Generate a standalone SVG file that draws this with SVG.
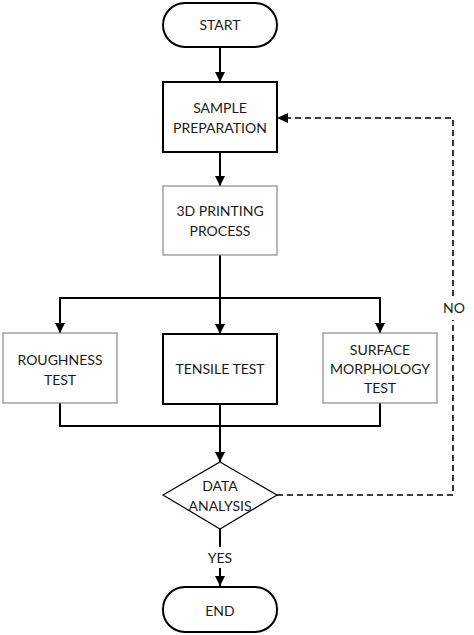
<svg xmlns="http://www.w3.org/2000/svg" width="474" height="635" viewBox="0 0 474 635">
<style>
text{font-family:Lato,"Open Sans","Liberation Sans",sans-serif;font-size:14px;fill:#1a1a1a;text-anchor:middle}
.blk{fill:#fff;stroke:#000;stroke-width:2}
.gry{fill:#fff;stroke:#8a8a8a;stroke-width:1.2}
.ln{fill:none;stroke:#000;stroke-width:2}
.dash{fill:none;stroke:#000;stroke-width:1.6;stroke-dasharray:6 4}
</style>
<defs>
<marker id="ah" markerWidth="10" markerHeight="10" viewBox="0 0 10 10" refX="10" refY="5" orient="auto" markerUnits="userSpaceOnUse">
<path d="M0,0 L10,5 L0,10 Z" fill="#000"/>
</marker>
</defs>
<g id="connectors">
<line class="ln" x1="220" y1="47" x2="220" y2="82" marker-end="url(#ah)"/>
<line class="ln" x1="220" y1="152" x2="220" y2="186" marker-end="url(#ah)"/>
<line class="ln" x1="220" y1="255" x2="220" y2="334" marker-end="url(#ah)"/>
<polyline class="ln" points="60,333 60,298 380,298 380,333" marker-end="url(#ah)"/>
<path class="ln" d="M60,298 L60,333" marker-end="url(#ah)"/>
<polyline class="ln" points="60,403 60,426 380,426 380,403"/>
<line class="ln" x1="220" y1="404" x2="220" y2="462" marker-end="url(#ah)"/>
<line class="ln" x1="220" y1="529" x2="220" y2="547"/>
<line class="ln" x1="220" y1="568" x2="220" y2="586" marker-end="url(#ah)"/>
<polyline class="dash" points="277,495 453,495 453,320"/>
<polyline class="dash" points="453,296 453,118 288,118"/>
<path d="M277,118 L288,113 L288,123 Z" fill="#000"/>
<text x="454" y="313">NO</text>
<text x="220" y="563">YES</text>
</g>
<g id="start">
<rect class="blk" x="163" y="3" width="114" height="44" rx="22"/>
<text x="220" y="30">START</text>
</g>
<g id="sample">
<rect class="blk" x="163" y="82" width="114" height="70"/>
<text x="220" y="113">SAMPLE</text>
<text x="220" y="133">PREPARATION</text>
</g>
<g id="printing">
<rect class="gry" x="163" y="186" width="114" height="69"/>
<text x="220" y="216">3D PRINTING</text>
<text x="220" y="236">PROCESS</text>
</g>
<g id="roughness">
<rect class="gry" x="3" y="333" width="114" height="70"/>
<text x="60" y="365">ROUGHNESS</text>
<text x="60" y="385">TEST</text>
</g>
<g id="tensile">
<rect class="blk" x="163" y="334" width="114" height="70"/>
<text x="220" y="374">TENSILE TEST</text>
</g>
<g id="surface">
<rect class="gry" x="323" y="333" width="114" height="70"/>
<text x="380" y="355">SURFACE</text>
<text x="380" y="374">MORPHOLOGY</text>
<text x="380" y="393">TEST</text>
</g>
<g id="analysis">
<polygon class="gry" points="220,462 277,495 220,529 163,495" style="stroke:#000;stroke-width:1.2"/>
<text x="220" y="491">DATA</text>
<text x="220" y="511">ANALYSIS</text>
</g>
<g id="end">
<rect class="blk" x="163" y="587" width="114" height="45" rx="22"/>
<text x="220" y="616">END</text>
</g>
</svg>
